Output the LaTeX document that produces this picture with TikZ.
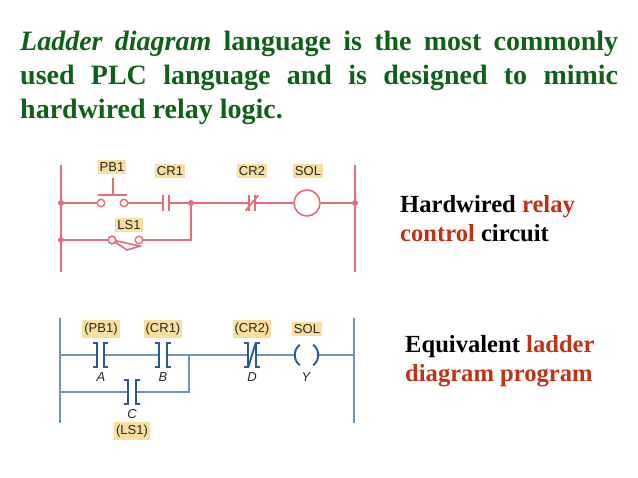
\documentclass[tikz,border=0pt]{standalone}
\usepackage{xcolor}
\usepackage{fontspec}
\setmainfont{Liberation Serif}
\setsansfont{Liberation Sans}
\usepackage{tikz}
\definecolor{c_title}{rgb}{0.05, 0.38, 0.10}
\definecolor{c_accent}{rgb}{0.75, 0.20, 0.08}
\definecolor{c_relay}{rgb}{0.90, 0.42, 0.46}
\definecolor{c_ladder}{rgb}{0.16, 0.34, 0.60}
\definecolor{c_rung}{rgb}{0.42, 0.58, 0.76}
\definecolor{c_tag}{rgb}{0.98, 0.87, 0.62}
\tikzset{tag/.style={rectangle, fill=c_tag, inner xsep=2pt, inner ysep=2.5pt, font=\sffamily\fontsize{13}{15}\selectfont, text=black!85},
letter/.style={inner sep=0pt, font=\sffamily\itshape\fontsize{13}{15}\selectfont, text=black!85},
caption/.style={anchor=west, inner sep=0pt, align=left, font=\bfseries\fontsize{24.6}{29}\selectfont},
dot/.style={circle, fill=c_relay, draw=c_relay, inner sep=0pt, minimum size=5.5pt},
term/.style={circle, draw=c_relay, fill=white, line width=1.4pt, inner sep=0pt, minimum size=7.5pt},
plates/.style={rectangle, inner sep=0pt, minimum width=6pt, minimum height=15pt},
coil/.style={circle, draw=c_relay, line width=1.6pt, fill=white, inner sep=0pt, minimum size=26pt},
relay/.style={draw=c_relay, line width=1.6pt},
symb/.style={draw=c_relay, line width=1.9pt},
rung/.style={draw=c_rung, line width=1.6pt},
gap/.style={rectangle, inner sep=0pt, minimum width=7pt, minimum height=24pt},
paren/.style={rectangle, inner sep=0pt, minimum width=23pt, minimum height=20pt},
bracket/.style={draw=c_ladder, line width=1.9pt}}
\begin{document}
\begin{tikzpicture}[x=1pt, y=-1pt]
\useasboundingbox (0,0) rectangle (638,478);
% title
\node (title) [anchor=north west, inner sep=0pt, text width=598pt, align=justify, text=c_title, font=\bfseries\fontsize{28}{34}\selectfont] at (20,31) {\emph{Ladder diagram} language is the most commonly\linebreak used PLC language and is designed to mimic\linebreak hardwired relay logic.};
\node (cap1) [caption] at (400,218.5) {Hardwired \textcolor{c_accent}{relay}\\ \textcolor{c_accent}{control} circuit};
\node (cap2) [caption] at (405,361.5) {Equivalent \textcolor{c_accent}{ladder}\\ \textcolor{c_accent}{diagram program}};
% relay circuit
\coordinate (rl0) at (61,165);
\coordinate (rl1) at (61,272);
\coordinate (rr0) at (355,165);
\coordinate (rr1) at (355,272);
\node (dl1) [dot] at (61,203) {};
\node (dl2) [dot] at (61,240) {};
\node (dr1) [dot] at (355,203) {};
\node (dj) [dot] at (191,203) {};
\node (pb1a) [term] at (101,203) {};
\node (pb1b) [term] at (124,203) {};
\node (cr1) [plates] at (166,203) {};
\node (cr2) [plates] at (252,203) {};
\node (sol) [coil] at (307,203) {};
\node (ls1a) [term] at (112,240) {};
\node (ls1b) [term] at (139,240) {};
\coordinate (cj) at (191,240);
\coordinate (pbl) at (98,195);
\coordinate (pbr) at (127,195);
\coordinate (pbm) at (113,195);
\coordinate (pbt) at (113,178);
\coordinate (lst) at (127,250);
\coordinate (lse) at (140,246);
\draw [relay] (rl0) -- (dl1) -- (dl2) -- (rl1);
\draw [relay] (rr0) -- (dr1) -- (rr1);
\draw [relay] (dl1) -- (pb1a);
\draw [relay] (pb1b) -- (cr1);
\draw [relay] (cr1) -- (dj) -- (cr2) -- (sol) -- (dr1);
\draw [relay] (dl2) -- (ls1a);
\draw [relay] (ls1b) -- (cj) -- (dj);
\draw [symb] (pbl) -- (pbr);
\draw [symb] (pbm) -- (pbt);
\draw [relay] (ls1a.center) -- (lst) -- (lse) -- cycle;
\node (ls1c) [term] at (112,240) {};
\foreach \n in {cr1,cr2} {
\draw [symb] (\n.north west) -- (\n.south west);
\draw [symb] (\n.north east) -- (\n.south east);
}
\draw [symb] ([xshift=-3pt]cr2.south west) -- ([xshift=3pt]cr2.north east);
\node (tpb1) [tag] at (112,167) {PB1};
\node (tcr1) [tag] at (170,171) {CR1};
\node (tcr2) [tag] at (252,171) {CR2};
\node (tsol) [tag] at (308,171) {SOL};
\node (tls1) [tag] at (129,225) {LS1};
% ladder program
\coordinate (ll0) at (60,318);
\coordinate (ll1) at (60,355);
\coordinate (ll2) at (60,392);
\coordinate (ll3) at (60,423);
\coordinate (lr0) at (354,318);
\coordinate (lr1) at (354,355);
\coordinate (lr2) at (354,423);
\coordinate (lj) at (189,355);
\coordinate (ljc) at (189,392);
\node (a) [gap] at (100.5,355) {};
\node (b) [gap] at (163,355) {};
\node (c) [gap] at (132,392) {};
\node (d) [gap] at (252,355) {};
\node (y) [paren] at (306.5,355) {};
\draw [rung] (ll0) -- (ll1) -- (ll2) -- (ll3);
\draw [rung] (lr0) -- (lr1) -- (lr2);
\draw [rung] (ll1) -- (a);
\draw [rung] (a) -- (b);
\draw [rung] (b) -- (lj) -- (d) -- (y.west);
\draw [rung] (y.east) -- (lr1);
\draw [rung] (ll2) -- (c);
\draw [rung] (c) -- (ljc) -- (lj);
\foreach \n in {a,b,c,d} {
\draw [bracket] ([xshift=-4pt]\n.north west) -- (\n.north west) -- (\n.south west) -- ([xshift=-4pt]\n.south west);
\draw [bracket] ([xshift=4pt]\n.north east) -- (\n.north east) -- (\n.south east) -- ([xshift=4pt]\n.south east);
}
\draw [bracket] (d.south west) -- (d.north east);
\draw [bracket] ([xshift=5pt]y.north west) .. controls ([xshift=-1.7pt,yshift=-5pt]y.north west) and ([xshift=-1.7pt,yshift=5pt]y.south west) .. ([xshift=5pt]y.south west);
\draw [bracket] ([xshift=-5pt]y.north east) .. controls ([xshift=1.7pt,yshift=-5pt]y.north east) and ([xshift=1.7pt,yshift=5pt]y.south east) .. ([xshift=-5pt]y.south east);
\node (tpb1b) [tag] at (101,329) {(PB1)};
\node (tcr1b) [tag] at (163,329) {(CR1)};
\node (tcr2b) [tag] at (252,329) {(CR2)};
\node (tsolb) [tag] at (307,329) {SOL};
\node (tlsb) [tag] at (132,431) {(LS1)};
\node (la) [letter] at (101,377) {A};
\node (lb) [letter] at (163,377) {B};
\node (ld) [letter] at (252,377) {D};
\node (ly) [letter] at (306,377) {Y};
\node (lc) [letter] at (132,414) {C};
\end{tikzpicture}
\end{document}
